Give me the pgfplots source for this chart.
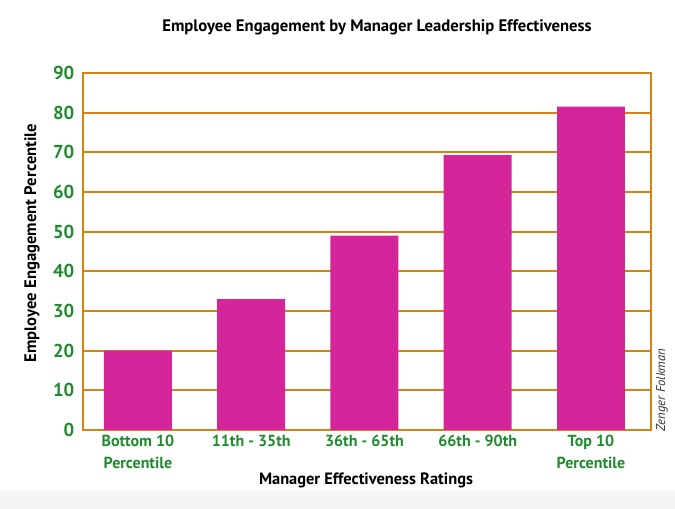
\documentclass[border=0pt]{standalone}
\usepackage{fontspec}
\setmainfont{PT Sans}
\usepackage{pgfplots}
\pgfplotsset{compat=1.18}
\definecolor{barc}{HTML}{D4259A}
\definecolor{gridc}{HTML}{D9820F}
\definecolor{tickc}{HTML}{1F8A2E}
\begin{document}
\begin{tikzpicture}[x=0.75pt,y=0.75pt]
\begin{axis}[
  name=ax,
  scale only axis, width=426pt, height=267.75pt,
  xmin=-0.485, xmax=4.53, ymin=0, ymax=90,
  ytick={0,10,...,90},
  xtick={0,1,2,3,4},
  xticklabels={{Bottom 10\\Percentile},{11th - 35th},{36th - 65th},{66th - 90th},{Top 10\\Percentile}},
  xticklabel style={align=center, font=\fontsize{12}{17}\selectfont\bfseries, text=tickc},
  yticklabel style={font=\fontsize{14}{16}\selectfont\bfseries, text=tickc, xshift=-3pt},
  /pgf/number format/assume math mode=true,
  major tick length=0pt,
  ymajorgrids,
  grid style={gridc, line width=1.6pt},
  axis line style={gridc, line width=1.6pt},
  x axis line style={line width=2.2pt},
  ybar, bar width=0.6,
]
\addplot[fill=barc, draw=none] coordinates {(0,20) (1,33) (2,49) (3,69.3) (4,81.5)};
\end{axis}
\pgfresetboundingbox
\path[use as bounding box] (ax.south west) ++(-83,-79) rectangle ++(675,509);
\fill[black!4] (ax.south west) ++(-83,-79) rectangle ++(675,18);
\path (ax.south west) ++(294,403) node[font=\fontsize{12.5}{14}\selectfont\bfseries] {Employee Engagement by Manager Leadership Effectiveness};
\path (ax.south west) ++(-51,187) node[font=\fontsize{12.5}{14}\selectfont\bfseries, rotate=90] {Employee Engagement Percentile};
\path (ax.south west) ++(283,-50) node[font=\fontsize{12.3}{14}\selectfont\bfseries] {Manager Effectiveness Ratings};
\path (ax.south west) ++(579,40) node[font=\fontsize{9.5}{10}\selectfont\itshape, rotate=90, text=black!80] {Zenger Folkman};
\end{tikzpicture}
\end{document}
